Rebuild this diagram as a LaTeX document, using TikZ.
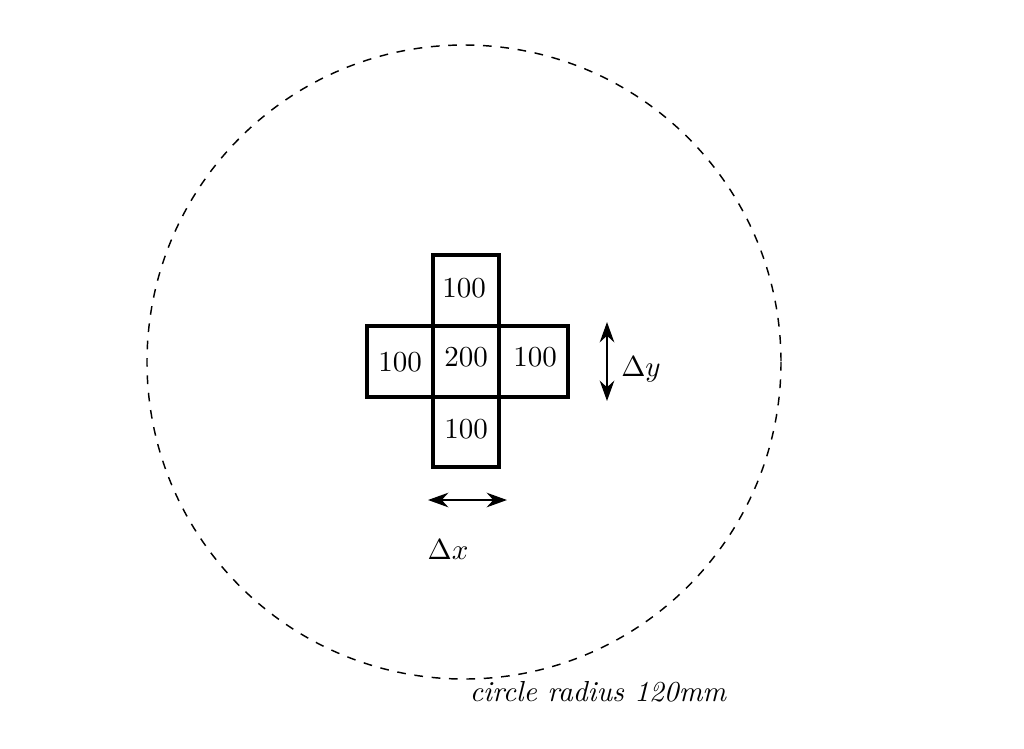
\documentclass[tikz,border=0pt]{standalone}
\usetikzlibrary{arrows.meta}
\begin{document}
\begin{tikzpicture}[x=0.345pt,y=-0.345pt,
  cell/.style={draw,line width=1.2pt},
  lbl/.style={inner sep=0pt},
  dim/.style={line width=0.9pt,{Stealth[length=7pt,width=5pt]}-{Stealth[length=7pt,width=5pt]}}]
\useasboundingbox (0,0) rectangle (1024,748);
\draw[dashed,line width=0.5pt] (464,362) circle[radius=317];
\draw[cell] (433,255) rectangle (499,326);
\draw[cell] (367,326) rectangle (433,397);
\draw[cell] (499,326) rectangle (568,397);
\draw[cell] (433,397) rectangle (499,467);
\draw[cell] (433,326) rectangle (499,397);
\node[lbl] (t) at (464,288) {100};
\node[lbl] (c) at (466,357) {200};
\node[lbl] (l) at (400,362) {100};
\node[lbl] (r) at (535,357) {100};
\node[lbl] (b) at (466,429) {100};
\coordinate (ya) at (607,322);
\coordinate (yb) at (607,401);
\draw[dim] (ya) -- (yb);
\node[lbl] (dy) at (641,369) {$\Delta y$};
\coordinate (xa) at (428,500);
\coordinate (xb) at (507,500);
\draw[dim] (xa) -- (xb);
\node[lbl] (dx) at (448,550) {$\Delta x$};
\node[lbl] (cap) at (598,692) {\itshape circle radius 120mm};
\end{tikzpicture}
\end{document}
